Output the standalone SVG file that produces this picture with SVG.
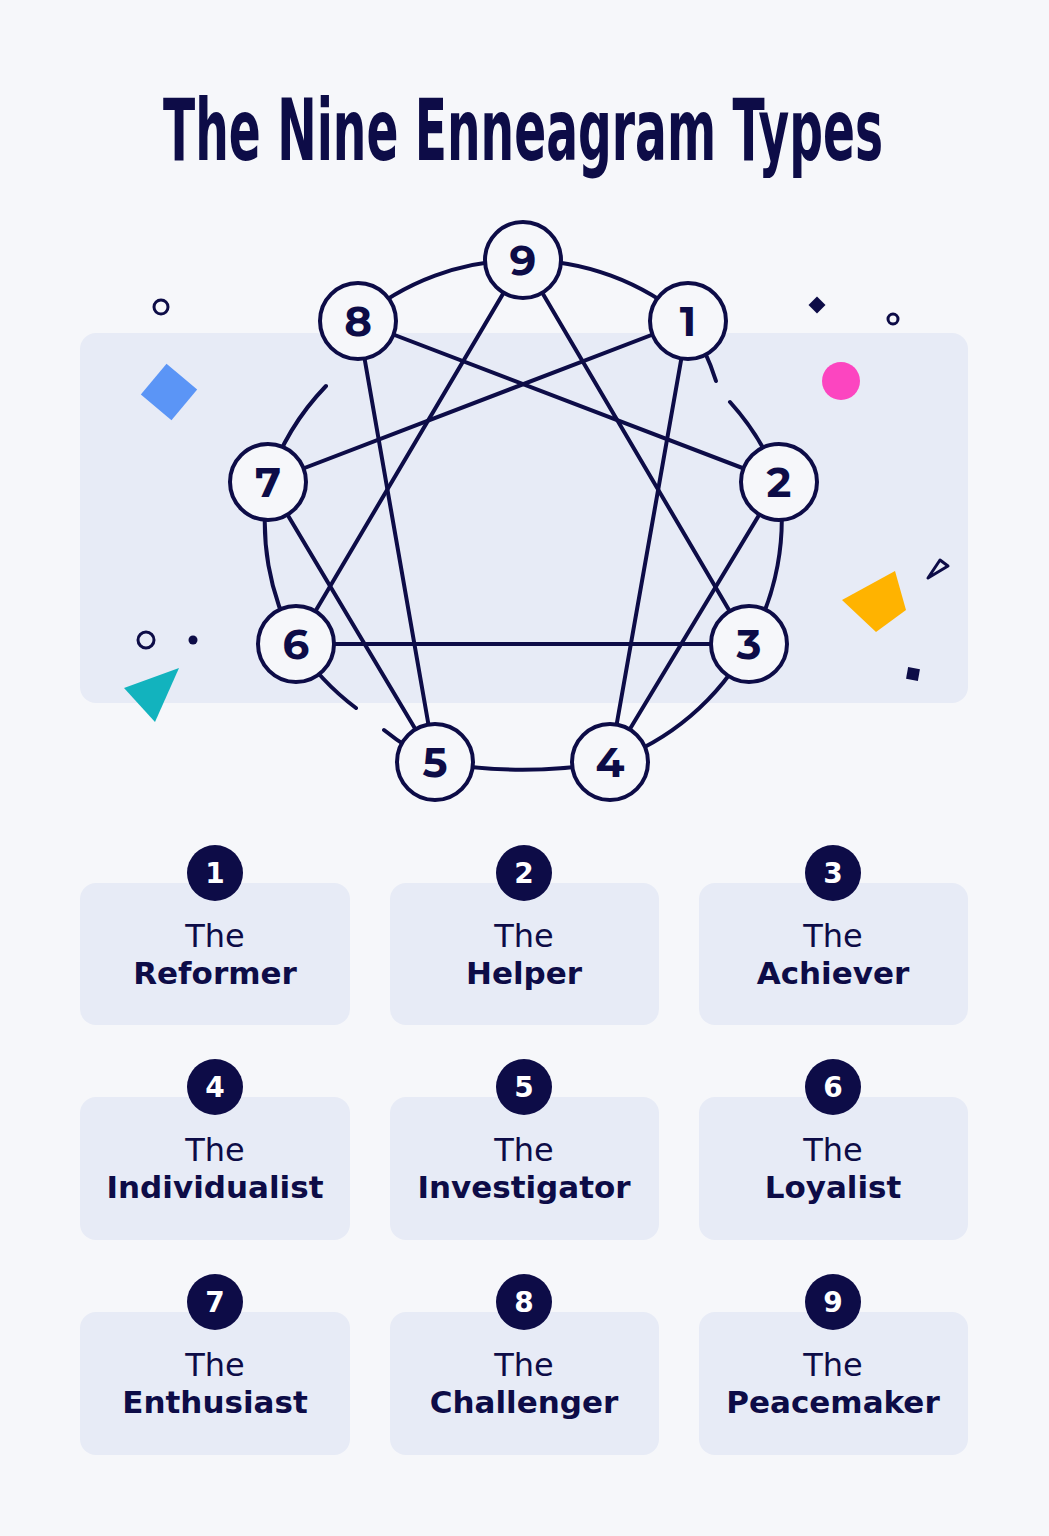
<svg xmlns="http://www.w3.org/2000/svg" width="1049" height="1536" viewBox="0 0 1049 1536">
<style>
.ln{stroke:#0d0c47;stroke-width:4;fill:none;stroke-linecap:round}
.nd circle{fill:#f6f7fa;stroke:#0d0c47;stroke-width:4}
.nd text{font-family:Montserrat,"DejaVu Sans",sans-serif;font-weight:bold;font-size:42px;fill:#0d0c47;text-anchor:middle}
.card rect{fill:#e7ebf6}
.card circle{fill:#0d0c47}
.card .n{font-family:"DejaVu Sans",sans-serif;font-weight:bold;font-size:28px;fill:#fff;text-anchor:middle}
.card .t{font-family:"DejaVu Sans",sans-serif;font-size:32px;fill:#0d0c47;text-anchor:middle}
.card .b{font-family:"DejaVu Sans",sans-serif;font-weight:bold;font-size:31px;fill:#0d0c47;text-anchor:middle}
</style>
<rect width="1049" height="1536" fill="#f6f7fa"/>
<text x="523" y="160" font-family="'DejaVu Sans Condensed','DejaVu Sans',sans-serif" font-weight="bold" font-size="86" fill="#0d0c47" text-anchor="middle" textLength="720" lengthAdjust="spacingAndGlyphs">The Nine Enneagram Types</text>
<rect x="80" y="333" width="888" height="370" rx="16" fill="#e7ebf6"/>
<g id="decor">
<circle cx="161" cy="307" r="7" fill="none" stroke="#0d0c47" stroke-width="3"/>
<rect x="149" y="372" width="40" height="40" fill="#5b95f6" transform="rotate(40 169 392)"/>
<rect x="811" y="299" width="12" height="12" fill="#0d0c47" transform="rotate(45 817 305)"/>
<circle cx="893" cy="319" r="5" fill="none" stroke="#0d0c47" stroke-width="3"/>
<circle cx="841" cy="381" r="19" fill="#fc45c0"/>
<polygon points="928,578 948,566 940,560" fill="none" stroke="#0d0c47" stroke-width="3" stroke-linejoin="round"/>
<polygon points="842,600 895,571 906,610 876,632" fill="#ffb300"/>
<rect x="907" y="668" width="12" height="12" fill="#0d0c47" transform="rotate(10 913 674)"/>
<circle cx="146" cy="640" r="8" fill="none" stroke="#0d0c47" stroke-width="3"/>
<circle cx="193" cy="640" r="4.5" fill="#0d0c47"/>
<polygon points="124,688 179,668 155,722" fill="#12b3be"/>
</g>
<g id="connectors">
<path class="ln" d="M358,321 A253,253 0 0 1 523,260 A253,253 0 0 1 688,321"/>
<path class="ln" d="M688,321 A253,253 0 0 1 716,381"/>
<path class="ln" d="M730,402 A253,253 0 0 1 779,482 A253,253 0 0 1 749,644 A253,253 0 0 1 610,762 A500,500 0 0 1 435,762"/>
<path class="ln" d="M435,762 A253,253 0 0 1 384,730"/>
<path class="ln" d="M356,708 A253,253 0 0 1 296,644 A253,253 0 0 1 268,482 A253,253 0 0 1 326,386"/>
<line class="ln" x1="523" y1="260" x2="749" y2="644"/>
<line class="ln" x1="749" y1="644" x2="296" y2="644"/>
<line class="ln" x1="296" y1="644" x2="523" y2="260"/>
<line class="ln" x1="688" y1="321" x2="610" y2="762"/>
<line class="ln" x1="610" y1="762" x2="779" y2="482"/>
<line class="ln" x1="779" y1="482" x2="358" y2="321"/>
<line class="ln" x1="358" y1="321" x2="435" y2="762"/>
<line class="ln" x1="435" y1="762" x2="268" y2="482"/>
<line class="ln" x1="268" y1="482" x2="688" y2="321"/>
</g>
<g id="n9" class="nd"><circle cx="523" cy="260" r="38"/><text x="523" y="275">9</text></g>
<g id="n8" class="nd"><circle cx="358" cy="321" r="38"/><text x="358" y="336">8</text></g>
<g id="n1" class="nd"><circle cx="688" cy="321" r="38"/><text x="688" y="336">1</text></g>
<g id="n7" class="nd"><circle cx="268" cy="482" r="38"/><text x="268" y="497">7</text></g>
<g id="n2" class="nd"><circle cx="779" cy="482" r="38"/><text x="779" y="497">2</text></g>
<g id="n6" class="nd"><circle cx="296" cy="644" r="38"/><text x="296" y="659">6</text></g>
<g id="n3" class="nd"><circle cx="749" cy="644" r="38"/><text x="749" y="659">3</text></g>
<g id="n5" class="nd"><circle cx="435" cy="762" r="38"/><text x="435" y="777">5</text></g>
<g id="n4" class="nd"><circle cx="610" cy="762" r="38"/><text x="610" y="777">4</text></g>
<g id="c1" class="card"><rect x="80" y="883" width="270" height="142" rx="16"/><circle cx="215" cy="873" r="28"/><text class="n" x="215" y="883">1</text><text class="t" x="215" y="947">The</text><text class="b" x="215" y="984">Reformer</text></g>
<g id="c2" class="card"><rect x="390" y="883" width="269" height="142" rx="16"/><circle cx="524" cy="873" r="28"/><text class="n" x="524" y="883">2</text><text class="t" x="524" y="947">The</text><text class="b" x="524" y="984">Helper</text></g>
<g id="c3" class="card"><rect x="699" y="883" width="269" height="142" rx="16"/><circle cx="833" cy="873" r="28"/><text class="n" x="833" y="883">3</text><text class="t" x="833" y="947">The</text><text class="b" x="833" y="984">Achiever</text></g>
<g id="c4" class="card"><rect x="80" y="1097" width="270" height="143" rx="16"/><circle cx="215" cy="1087" r="28"/><text class="n" x="215" y="1097">4</text><text class="t" x="215" y="1161">The</text><text class="b" x="215" y="1198">Individualist</text></g>
<g id="c5" class="card"><rect x="390" y="1097" width="269" height="143" rx="16"/><circle cx="524" cy="1087" r="28"/><text class="n" x="524" y="1097">5</text><text class="t" x="524" y="1161">The</text><text class="b" x="524" y="1198">Investigator</text></g>
<g id="c6" class="card"><rect x="699" y="1097" width="269" height="143" rx="16"/><circle cx="833" cy="1087" r="28"/><text class="n" x="833" y="1097">6</text><text class="t" x="833" y="1161">The</text><text class="b" x="833" y="1198">Loyalist</text></g>
<g id="c7" class="card"><rect x="80" y="1312" width="270" height="143" rx="16"/><circle cx="215" cy="1302" r="28"/><text class="n" x="215" y="1312">7</text><text class="t" x="215" y="1376">The</text><text class="b" x="215" y="1413">Enthusiast</text></g>
<g id="c8" class="card"><rect x="390" y="1312" width="269" height="143" rx="16"/><circle cx="524" cy="1302" r="28"/><text class="n" x="524" y="1312">8</text><text class="t" x="524" y="1376">The</text><text class="b" x="524" y="1413">Challenger</text></g>
<g id="c9" class="card"><rect x="699" y="1312" width="269" height="143" rx="16"/><circle cx="833" cy="1302" r="28"/><text class="n" x="833" y="1312">9</text><text class="t" x="833" y="1376">The</text><text class="b" x="833" y="1413">Peacemaker</text></g>
</svg>
